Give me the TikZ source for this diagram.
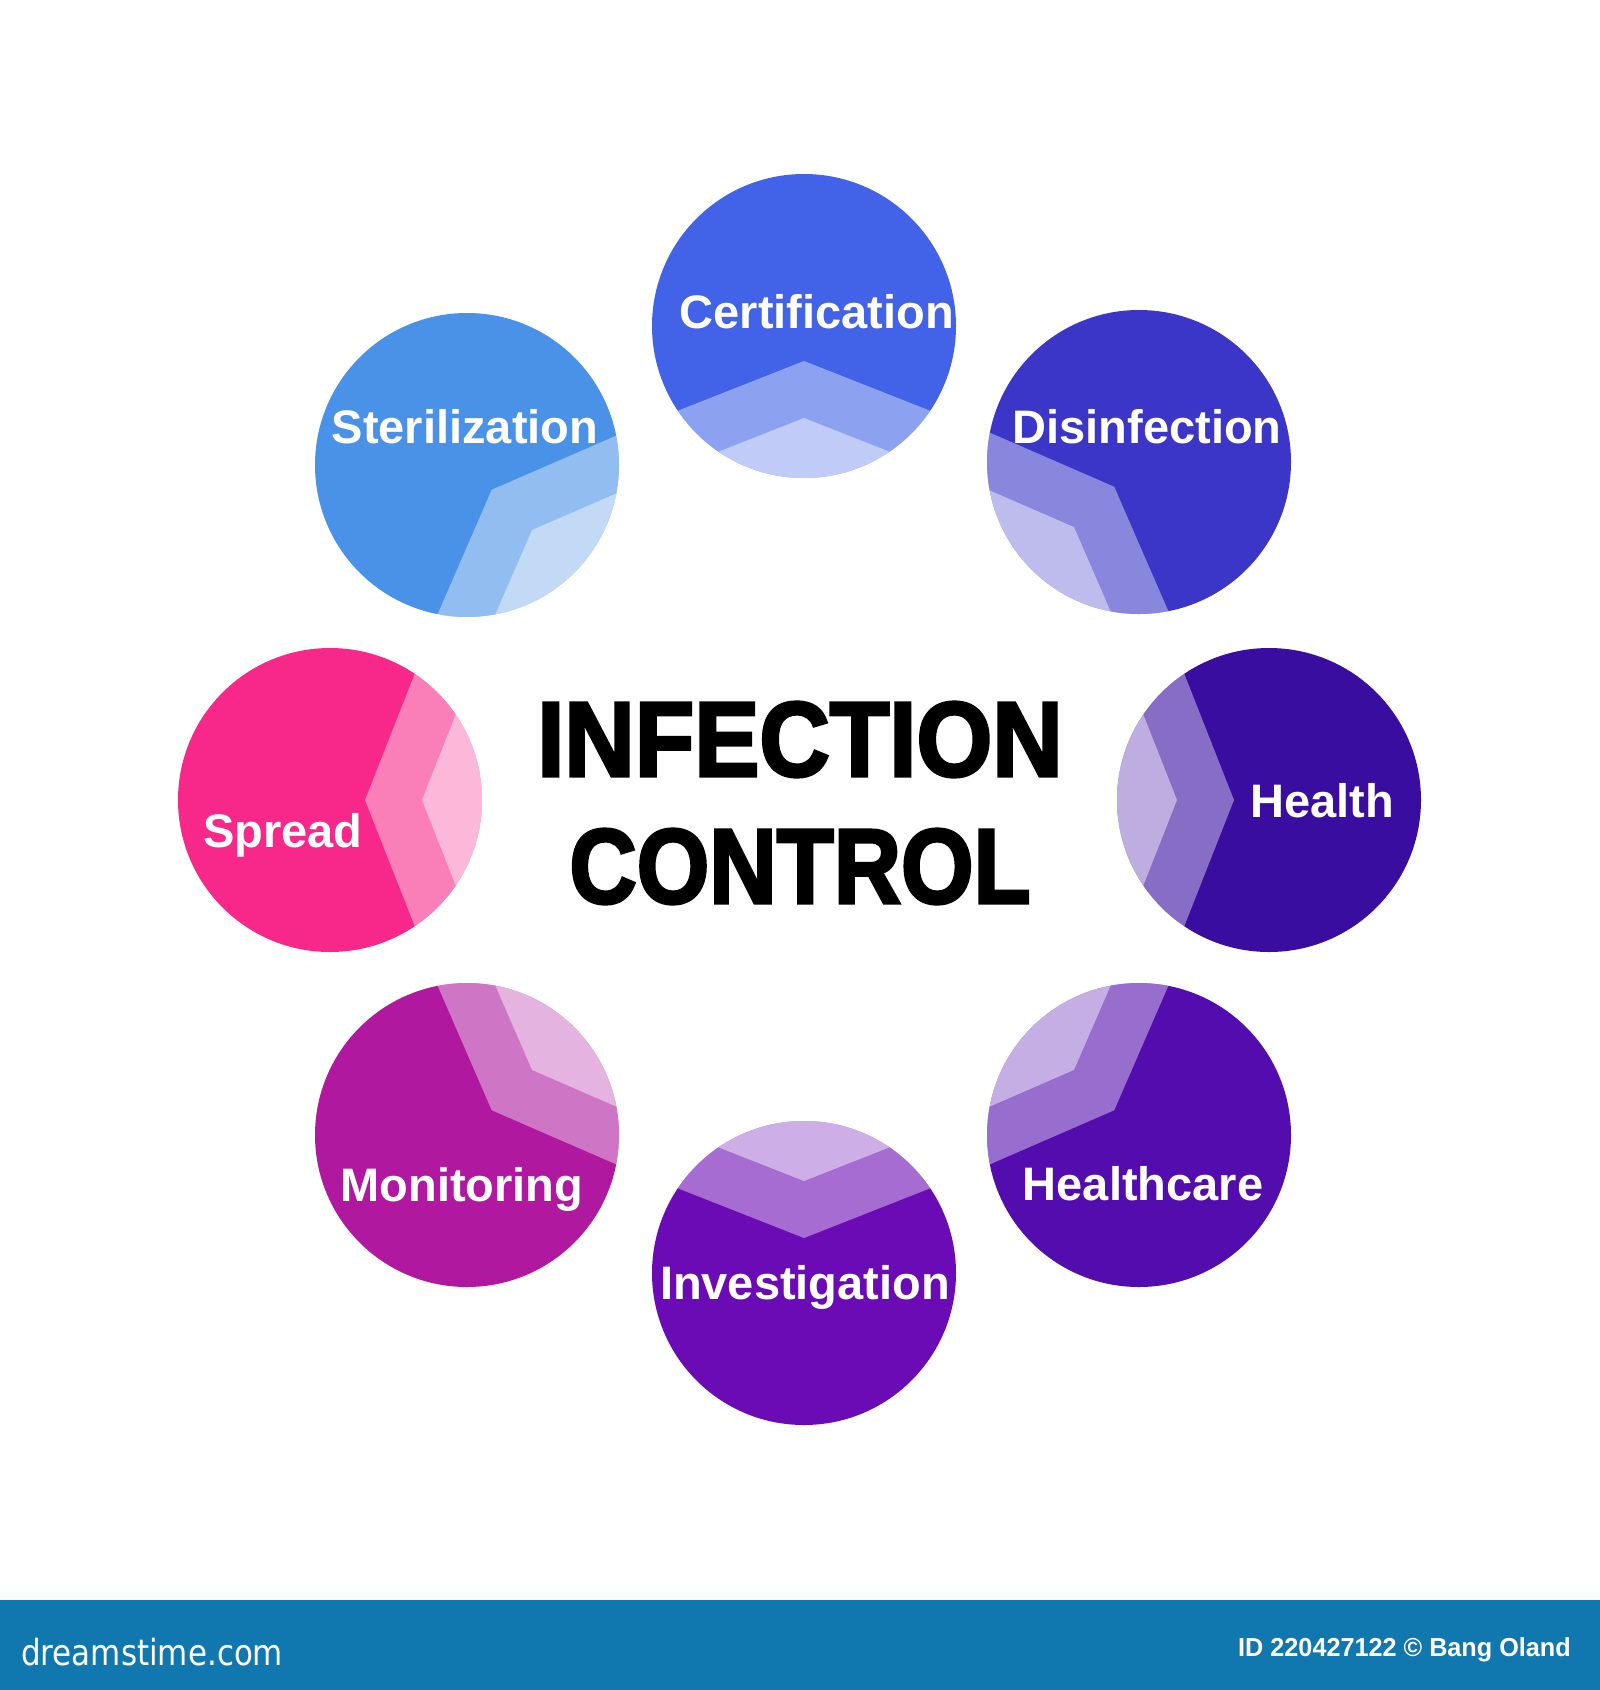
\documentclass[tikz,border=0pt]{standalone}
\usepackage{fontspec}
\setmainfont{Liberation Sans}
\newfontfamily\heavyfont{Liberation Sans}[BoldFeatures={FakeBold=3}]
\newfontfamily\logofont{DejaVu Sans}
\definecolor{cCert}{HTML}{4263E8}
\definecolor{cDisi}{HTML}{3B36C8}
\definecolor{cHeal}{HTML}{390DA0}
\definecolor{cHcar}{HTML}{530DAE}
\definecolor{cInve}{HTML}{6B0BB5}
\definecolor{cMoni}{HTML}{B0199F}
\definecolor{cSpre}{HTML}{F7288A}
\definecolor{cSter}{HTML}{4A92E8}
\definecolor{barblue}{HTML}{1177AF}
\newcommand{\chevbands}{%
  \fill[white, fill opacity=0.4] (-35,0) -- (-192.6,400) -- (-700,400) -- (-700,-400) -- (-192.6,-400) -- cycle;
  \fill[white, fill opacity=0.45] (-92,0) -- (-249.6,400) -- (-700,400) -- (-700,-400) -- (-249.6,-400) -- cycle;
}
\newcommand{\discbands}[2]{%
  \begin{scope}
    \clip (#1.center) circle[radius=152pt];
    \begin{scope}[shift={(#1.center)}, rotate=#2]
      \chevbands
    \end{scope}
  \end{scope}
}
\tikzset{
  disc/.style={circle, inner sep=0pt, minimum size=304pt, draw=none},
  lbl/.style={anchor=base, text=white, inner sep=0pt, font=\bfseries\fontsize{47}{56}\selectfont},
  title/.style={anchor=base, text=black, inner sep=0pt, font=\heavyfont\bfseries\fontsize{106}{120}\selectfont},
}
\begin{document}
\begin{tikzpicture}[x=1pt,y=-1pt]
\useasboundingbox (0,0) rectangle (1600,1690);
\fill[white] (0,0) rectangle (1600,1690);

% Certification
\node[disc, fill=cCert] (cert) at (804,326) {};
\discbands{cert}{90}
\node[lbl] (certT) at (817,328) {Certification};

% Disinfection
\node[disc, fill=cDisi] (disi) at (1139,462) {};
\discbands{disi}{45}
\node[lbl] (disiT) at (1147,443) {Disinfection};

% Health
\node[disc, fill=cHeal] (heal) at (1269,800) {};
\discbands{heal}{0}
\node[lbl] (healT) at (1322,817) {Health};

% Healthcare
\node[disc, fill=cHcar] (hcar) at (1139,1135) {};
\discbands{hcar}{-45}
\node[lbl] (hcarT) at (1143,1200) {Healthcare};

% Investigation
\node[disc, fill=cInve] (inve) at (804,1273) {};
\discbands{inve}{-90}
\node[lbl] (inveT) at (805,1299) {Investigation};

% Monitoring
\node[disc, fill=cMoni] (moni) at (467,1135) {};
\discbands{moni}{-135}
\node[lbl] (moniT) at (462,1201) {Monitoring};

% Spread
\node[disc, fill=cSpre] (spre) at (330,800) {};
\discbands{spre}{180}
\node[lbl] (spreT) at (283,847) {Spread};

% Sterilization
\node[disc, fill=cSter] (ster) at (467,465) {};
\discbands{ster}{135}
\node[lbl] (sterT) at (465,443) {Sterilization};

% Title
\node[title] (title1) at (800,776) {\scalebox{0.92}[1]{INFECTION}};
\node[title] (title2) at (800,903) {\scalebox{0.88}[1]{CONTROL}};

% Bottom bar
\fill[barblue] (0,1600) rectangle (1600,1690);
\node[anchor=base west, text=white, inner sep=0pt, font=\logofont\fontsize{36}{40}\selectfont] (logo) at (21,1665) {\scalebox{0.86}[1]{dreamstime.com}};
\node[anchor=base east, text=white, inner sep=0pt, font=\bfseries\fontsize{26}{30}\selectfont] (credit) at (1571,1656) {\scalebox{0.97}[1]{ID 220427122 © Bang Oland}};
\end{tikzpicture}
\end{document}
